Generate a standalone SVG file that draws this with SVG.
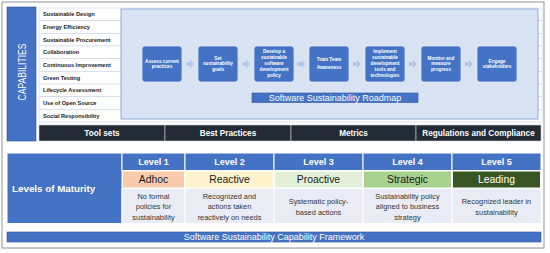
<svg xmlns="http://www.w3.org/2000/svg" width="550" height="253" viewBox="0 0 550 253">
<style>
.blue{fill:#4472c4;stroke:#2f5597;stroke-width:0.6}
.row{fill:#ffffff;stroke:#c9d3e6;stroke-width:0.6}
.cap{font-family:"Liberation Sans",Arial,sans-serif;font-weight:bold;font-size:5.6px;fill:#1a1a1a}
.pbox{fill:#4472c4;stroke:#dae3f3;stroke-width:0.8}
.ptxt{font-family:"Liberation Sans",Arial,sans-serif;font-weight:bold;font-size:4.7px;fill:#ffffff;text-anchor:middle}
.arrow{fill:#b4c7e7}
.dark{fill:#222a35;stroke:#d0d0d0;stroke-width:0.6}
.dtxt{font-family:"Liberation Sans",Arial,sans-serif;font-weight:bold;font-size:8.2px;fill:#ffffff;text-anchor:middle}
.hdr{fill:#4472c4;stroke:#ffffff;stroke-width:1}
.htxt{font-family:"Liberation Sans",Arial,sans-serif;font-weight:bold;font-size:9px;fill:#ffffff;text-anchor:middle}
.ntxt{font-family:"Liberation Sans",Arial,sans-serif;font-size:10.4px;fill:#1a1a1a;text-anchor:middle}
.desc{fill:#e9ecf4;stroke:#ffffff;stroke-width:1}
.dsc{font-family:"Liberation Sans",Arial,sans-serif;font-size:7.4px;fill:#333333;text-anchor:middle}
.wt{font-family:"Liberation Sans",Arial,sans-serif;fill:#ffffff}
</style>
<rect x="2" y="2" width="542" height="246" fill="#ffffff" stroke="#a6a6a6" stroke-width="1.2"/>

<g id="capabilities">
<rect class="blue" x="7" y="7" width="29" height="134"/>
<text class="wt" x="0" y="0" font-size="10.5" text-anchor="middle" transform="translate(25.5,72) rotate(-90)" textLength="57" lengthAdjust="spacingAndGlyphs">CAPABILITIES</text>
</g>

<g id="capability-list">
<rect class="row" x="39" y="8" width="503" height="12.67"/>
<rect class="row" x="39" y="20.67" width="503" height="12.67"/>
<rect class="row" x="39" y="33.33" width="503" height="12.67"/>
<rect class="row" x="39" y="46" width="503" height="12.67"/>
<rect class="row" x="39" y="58.67" width="503" height="12.67"/>
<rect class="row" x="39" y="71.33" width="503" height="12.67"/>
<rect class="row" x="39" y="84" width="503" height="12.67"/>
<rect class="row" x="39" y="96.67" width="503" height="12.67"/>
<rect class="row" x="39" y="109.33" width="503" height="12.67"/>
<text class="cap" x="43" y="16.4">Sustainable Design</text>
<text class="cap" x="43" y="29.1">Energy Efficiency</text>
<text class="cap" x="43" y="41.7">Sustainable Procurement</text>
<text class="cap" x="43" y="54.4">Collaboration</text>
<text class="cap" x="43" y="67.1">Continuous Improvement</text>
<text class="cap" x="43" y="79.7">Green Testing</text>
<text class="cap" x="43" y="92.4">Lifecycle Assessment</text>
<text class="cap" x="43" y="105.1">Use of Open Source</text>
<text class="cap" x="43" y="117.7">Social Responsibility</text>
</g>

<g id="roadmap-panel">
<rect x="121" y="9" width="417" height="110" fill="#dae3f3" stroke="#8faadc" stroke-width="1"/>
</g>

<g id="step-1">
<rect class="pbox" x="142" y="46" width="40" height="36" rx="3"/>
<text class="ptxt" x="162" y="62.5">Assess current</text>
<text class="ptxt" x="162" y="68.3">practices</text>
</g>
<g id="step-2">
<rect class="pbox" x="198" y="46" width="40" height="36" rx="3"/>
<text class="ptxt" x="218" y="59.6">Set</text>
<text class="ptxt" x="218" y="65.4">sustainability</text>
<text class="ptxt" x="218" y="71.2">goals</text>
</g>
<g id="step-3">
<rect class="pbox" x="254" y="46" width="40" height="36" rx="3"/>
<text class="ptxt" x="274" y="53.4">Develop a</text>
<text class="ptxt" x="274" y="59.2">sustainable</text>
<text class="ptxt" x="274" y="65">software</text>
<text class="ptxt" x="274" y="70.8">development</text>
<text class="ptxt" x="274" y="76.6">policy</text>
</g>
<g id="step-4">
<rect class="pbox" x="309" y="46" width="40" height="36" rx="3"/>
<text class="ptxt" x="329" y="61">Train Team</text>
<text class="ptxt" x="329" y="68.5">Awareness</text>
</g>
<g id="step-5">
<rect class="pbox" x="365" y="46" width="40" height="36" rx="3"/>
<text class="ptxt" x="385" y="53.4">Implement</text>
<text class="ptxt" x="385" y="59.2">sustainable</text>
<text class="ptxt" x="385" y="65">development</text>
<text class="ptxt" x="385" y="70.8">tools and</text>
<text class="ptxt" x="385" y="76.6">technologies</text>
</g>
<g id="step-6">
<rect class="pbox" x="421" y="46" width="40" height="36" rx="3"/>
<text class="ptxt" x="441" y="59.6">Monitor and</text>
<text class="ptxt" x="441" y="65.4">measure</text>
<text class="ptxt" x="441" y="71.2">progress</text>
</g>
<g id="step-7">
<rect class="pbox" x="477" y="46" width="40" height="36" rx="3"/>
<text class="ptxt" x="497" y="62.5">Engage</text>
<text class="ptxt" x="497" y="68.3">stakeholders</text>
</g>

<g id="connectors">
<path class="arrow" d="M186,62 h4 v-2.5 l4,4.5 l-4,4.5 v-2.5 h-4 z"/>
<path class="arrow" d="M242,62 h4 v-2.5 l4,4.5 l-4,4.5 v-2.5 h-4 z"/>
<path class="arrow" d="M297.5,62 h4 v-2.5 l4,4.5 l-4,4.5 v-2.5 h-4 z"/>
<path class="arrow" d="M353,62 h4 v-2.5 l4,4.5 l-4,4.5 v-2.5 h-4 z"/>
<path class="arrow" d="M409,62 h4 v-2.5 l4,4.5 l-4,4.5 v-2.5 h-4 z"/>
<path class="arrow" d="M465,62 h4 v-2.5 l4,4.5 l-4,4.5 v-2.5 h-4 z"/>
</g>

<g id="roadmap-label">
<rect class="blue" x="252" y="93" width="166" height="9.5"/>
<text class="wt" x="335" y="100.9" font-size="9" text-anchor="middle">Software Sustainability Roadmap</text>
</g>

<g id="enablers">
<rect class="dark" x="39" y="125" width="126" height="16"/>
<rect class="dark" x="165" y="125" width="126" height="16"/>
<rect class="dark" x="291" y="125" width="125" height="16"/>
<rect class="dark" x="416" y="125" width="125" height="16"/>
<text class="dtxt" x="102" y="136">Tool sets</text>
<text class="dtxt" x="228" y="136">Best Practices</text>
<text class="dtxt" x="353.5" y="136">Metrics</text>
<text class="dtxt" x="478.5" y="136">Regulations and Compliance</text>
</g>

<g id="levels-of-maturity">
<rect class="hdr" x="7" y="153" width="115" height="70.5"/>
<text class="wt" x="12" y="191.5" font-size="9.8" font-weight="bold">Levels of Maturity</text>
</g>

<g id="level-1">
<rect class="hdr" x="122" y="153" width="63" height="17.5"/>
<rect x="122.5" y="171" width="62" height="17" fill="#f8cbad" stroke="#ffffff" stroke-width="1"/>
<rect class="desc" x="122" y="188.5" width="63" height="35"/>
<text class="htxt" x="153.5" y="165">Level 1</text>
<text class="ntxt" x="153.5" y="183.3">Adhoc</text>
<text class="dsc" x="153.5" y="199">No formal</text>
<text class="dsc" x="153.5" y="209.3">policies for</text>
<text class="dsc" x="153.5" y="219.6">sustainability</text>
</g>
<g id="level-2">
<rect class="hdr" x="185" y="153" width="89" height="17.5"/>
<rect x="185.5" y="171" width="88" height="17" fill="#fff2cc" stroke="#ffffff" stroke-width="1"/>
<rect class="desc" x="185" y="188.5" width="89" height="35"/>
<text class="htxt" x="229.5" y="165">Level 2</text>
<text class="ntxt" x="229.5" y="183.3">Reactive</text>
<text class="dsc" x="229.5" y="199">Recognized and</text>
<text class="dsc" x="229.5" y="209.3">actions taken</text>
<text class="dsc" x="229.5" y="219.6">reactively on needs</text>
</g>
<g id="level-3">
<rect class="hdr" x="274" y="153" width="89" height="17.5"/>
<rect x="274.5" y="171" width="88" height="17" fill="#e2f0d9" stroke="#ffffff" stroke-width="1"/>
<rect class="desc" x="274" y="188.5" width="89" height="35"/>
<text class="htxt" x="318.5" y="165">Level 3</text>
<text class="ntxt" x="318.5" y="183.3">Proactive</text>
<text class="dsc" x="318.5" y="204.3">Systematic policy-</text>
<text class="dsc" x="318.5" y="214.6">based actions</text>
</g>
<g id="level-4">
<rect class="hdr" x="363" y="153" width="89" height="17.5"/>
<rect x="363.5" y="171" width="88" height="17" fill="#a9d18e" stroke="#ffffff" stroke-width="1"/>
<rect class="desc" x="363" y="188.5" width="89" height="35"/>
<text class="htxt" x="407.5" y="165">Level 4</text>
<text class="ntxt" x="407.5" y="183.3">Strategic</text>
<text class="dsc" x="407.5" y="199">Sustainability policy</text>
<text class="dsc" x="407.5" y="209.3">aligned to business</text>
<text class="dsc" x="407.5" y="219.6">strategy</text>
</g>
<g id="level-5">
<rect class="hdr" x="452" y="153" width="89" height="17.5"/>
<rect x="452.5" y="171" width="88" height="17" fill="#375623" stroke="#ffffff" stroke-width="1"/>
<rect class="desc" x="452" y="188.5" width="89" height="35"/>
<text class="htxt" x="496.5" y="165">Level 5</text>
<text class="ntxt" x="496.5" y="183.3" style="fill:#ffffff">Leading</text>
<text class="dsc" x="496.5" y="204.3">Recognized leader in</text>
<text class="dsc" x="496.5" y="214.6">sustainability</text>
</g>

<g id="framework-label">
<rect class="blue" x="7" y="232" width="534" height="10"/>
<text class="wt" x="274" y="240.3" font-size="9" text-anchor="middle">Software Sustainability Capability Framework</text>
</g>
</svg>
